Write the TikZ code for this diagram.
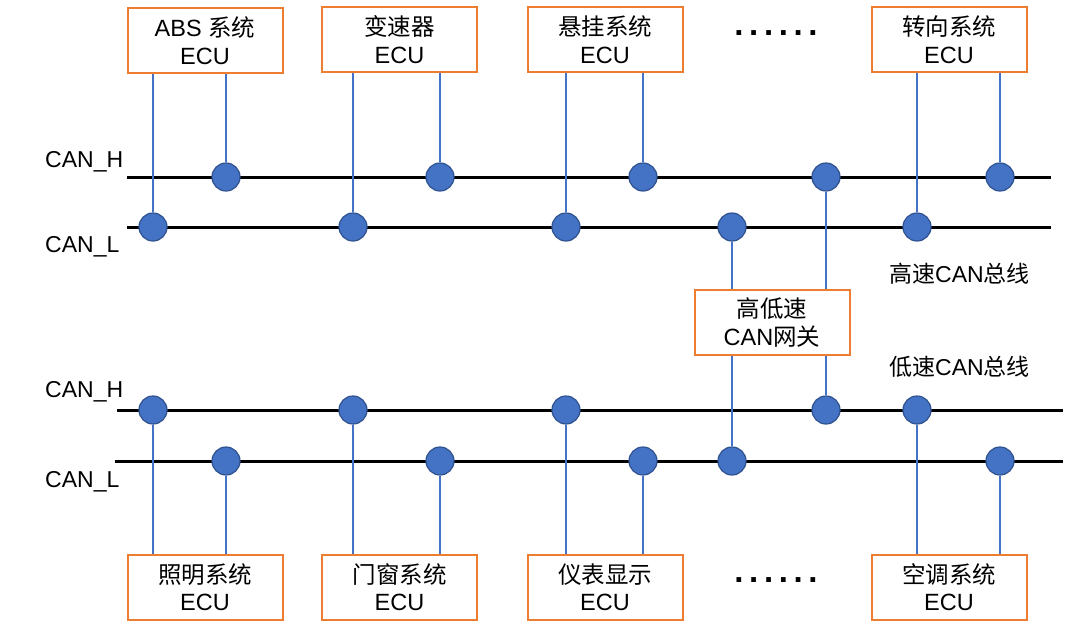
\documentclass[tikz,border=0pt]{standalone}
\usepackage{fontspec}
\setmainfont{Liberation Sans}
\newfontfamily\cjk{Noto Sans CJK SC}
\newfontfamily\gapdots[LetterSpace=17]{Liberation Sans}
\usepackage{tikz}
\usetikzlibrary{positioning}
\definecolor{ecuorange}{HTML}{ED7D31}
\definecolor{tapblue}{HTML}{4472C4}
\definecolor{tapedge}{HTML}{2F528F}

\begin{document}
\begin{tikzpicture}[x=1pt, y=-1pt,
  ecu/.style={rectangle, draw=ecuorange, line width=2pt, fill=white,
              minimum width=155pt, minimum height=65pt, inner sep=0pt,
              align=center, font=\fontsize{23.5}{27.5}\selectfont},
  tap/.style={circle, draw=tapedge, fill=tapblue, line width=1.2pt,
              minimum size=28pt, inner sep=0pt},
  bus/.style={line width=3pt},
  stub/.style={draw=tapblue, line width=1.4pt},
  busname/.style={anchor=base west, inner sep=0pt,
                  font=\fontsize{23}{27}\selectfont},
  more/.style={inner sep=0pt, font=\fontsize{33}{33}\gapdots\bfseries}
]
  \useasboundingbox (0,0) rectangle (1080,624);

  % Bus ends
  \coordinate (hsH0) at (127,177);  \coordinate (hsH1) at (1051,177);
  \coordinate (hsL0) at (127,227);  \coordinate (hsL1) at (1051,227);
  \coordinate (lsH0) at (117,410);  \coordinate (lsH1) at (1063,410);
  \coordinate (lsL0) at (115,461);  \coordinate (lsL1) at (1063,461);

  % Buses
  \draw[bus] (hsH0) -- (hsH1);
  \draw[bus] (hsL0) -- (hsL1);
  \draw[bus] (lsH0) -- (lsH1);
  \draw[bus] (lsL0) -- (lsL1);

  % Bus names
  \node[busname] (nH1) at (45,167) {CAN\_H};
  \node[busname] (nL1) at (45,252) {CAN\_L};
  \node[busname] (nH2) at (45,397) {CAN\_H};
  \node[busname] (nL2) at (45,487) {CAN\_L};
  \node[busname] (hs)  at (889,282) {{\cjk 高速}CAN{\cjk 总线}};
  \node[busname] (ls)  at (889,375) {{\cjk 低速}CAN{\cjk 总线}};

  % ECUs
  \node[ecu] (abs)   at (205,40.5) {ABS {\cjk 系统}\\ECU};
  \node[ecu] (gear)  at (399.5,39.5) {{\cjk 变速器}\\ECU};
  \node[ecu] (susp)  at (605,39.5) {{\cjk 悬挂系统}\\ECU};
  \node[ecu] (steer) at (949,39.5) {{\cjk 转向系统}\\ECU};
  \node[ecu] (gw)    at (772,322.5) {{\cjk 高低速}\\CAN{\cjk 网关}};
  \node[ecu] (light) at (205,587) {{\cjk 照明系统}\\ECU};
  \node[ecu] (door)  at (399.5,587) {{\cjk 门窗系统}\\ECU};
  \node[ecu] (dash)  at (605,587) {{\cjk 仪表显示}\\ECU};
  \node[ecu] (ac)    at (949,587) {{\cjk 空调系统}\\ECU};
  \node[more] (etc1) at (776,33) {......};
  \node[more] (etc2) at (776,580) {......};

  % Taps, high speed
  \node[tap] (hH1) at (226,177) {};  \node[tap] (hL1) at (153,227) {};
  \node[tap] (hH2) at (440,177) {};  \node[tap] (hL2) at (353,227) {};
  \node[tap] (hH3) at (643,177) {};  \node[tap] (hL3) at (566,227) {};
  \node[tap] (hH4) at (826,177) {};  \node[tap] (hL4) at (732,227) {};
  \node[tap] (hH5) at (1000,177) {}; \node[tap] (hL5) at (917,227) {};
  % Taps, low speed
  \node[tap] (lH1) at (153,410) {};  \node[tap] (lL1) at (226,461) {};
  \node[tap] (lH2) at (353,410) {};  \node[tap] (lL2) at (440,461) {};
  \node[tap] (lH3) at (566,410) {};  \node[tap] (lL3) at (643,461) {};
  \node[tap] (lH4) at (826,410) {};  \node[tap] (lL4) at (732,461) {};
  \node[tap] (lH5) at (917,410) {};  \node[tap] (lL5) at (1000,461) {};

  % Stubs, high speed
  \draw[stub] (abs.south -| hL1) -- (hL1.north);
  \draw[stub] (abs.south -| hH1) -- (hH1.north);
  \draw[stub] (gear.south -| hL2) -- (hL2.north);
  \draw[stub] (gear.south -| hH2) -- (hH2.north);
  \draw[stub] (susp.south -| hL3) -- (hL3.north);
  \draw[stub] (susp.south -| hH3) -- (hH3.north);
  \draw[stub] (steer.south -| hL5) -- (hL5.north);
  \draw[stub] (steer.south -| hH5) -- (hH5.north);

  % Gateway
  \draw[stub] (hL4.south) -- (gw.north -| hL4);
  \draw[stub] (hH4.south) -- (gw.north -| hH4);
  \draw[stub] (gw.south -| lL4) -- (lL4.north);
  \draw[stub] (gw.south -| lH4) -- (lH4.north);

  % Stubs, low speed
  \draw[stub] (lH1.south) -- (light.north -| lH1);
  \draw[stub] (lL1.south) -- (light.north -| lL1);
  \draw[stub] (lH2.south) -- (door.north -| lH2);
  \draw[stub] (lL2.south) -- (door.north -| lL2);
  \draw[stub] (lH3.south) -- (dash.north -| lH3);
  \draw[stub] (lL3.south) -- (dash.north -| lL3);
  \draw[stub] (lH5.south) -- (ac.north -| lH5);
  \draw[stub] (lL5.south) -- (ac.north -| lL5);
\end{tikzpicture}
\end{document}
